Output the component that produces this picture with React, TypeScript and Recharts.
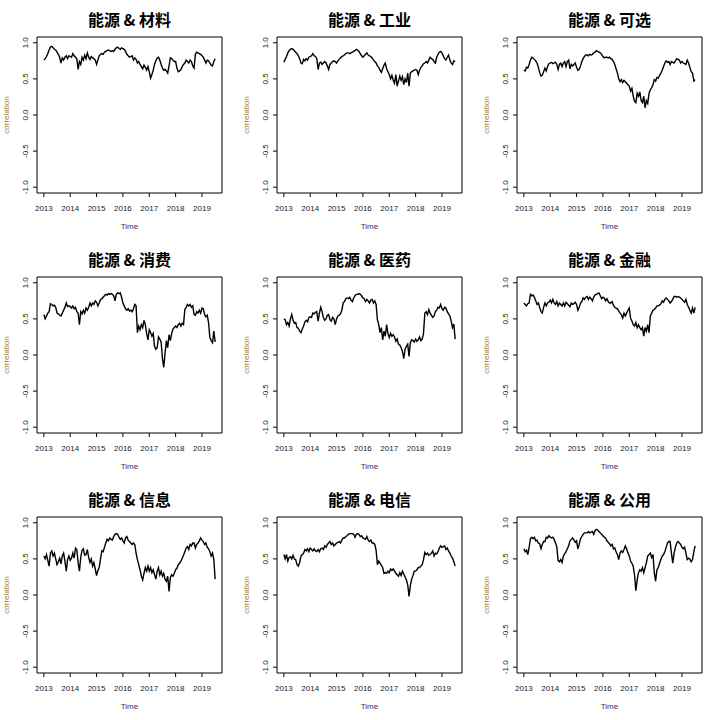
import React from "react";
import { LineChart, Line, XAxis, YAxis, ReferenceArea } from "recharts";

// time index like an R ts(start = 2013, frequency = 20)
const START = 2013;
const FREQ = 20;
const N = 131;
const TIME = Array.from({ length: N }, (_, i) => Math.round((START + i / FREQ) * 100) / 100);

const YEARS = [2013, 2014, 2015, 2016, 2017, 2018, 2019];
const CORR_TICKS = [-1, -0.5, 0, 0.5, 1];
const X_DOMAIN = [2012.74, 2019.76];
const Y_DOMAIN = [-1.08, 1.08];

const TITLES = [
  "能源 & 材料", "能源 & 工业", "能源 & 可选",
  "能源 & 消费", "能源 & 医药", "能源 & 金融",
  "能源 & 信息", "能源 & 电信", "能源 & 公用",
];

const materials = [
  0.76, 0.78, 0.81, 0.85, 0.90, 0.94, 0.95, 0.93, 0.91, 0.90,
  0.87, 0.84, 0.80, 0.72, 0.79, 0.76, 0.80, 0.82, 0.78, 0.82,
  0.81, 0.80, 0.85, 0.82, 0.80, 0.78, 0.63, 0.74, 0.70, 0.80,
  0.76, 0.83, 0.78, 0.86, 0.80, 0.77, 0.81, 0.79, 0.78, 0.76,
  0.70, 0.76, 0.82, 0.84, 0.85, 0.84, 0.87, 0.88, 0.89, 0.90,
  0.89, 0.88, 0.89, 0.88, 0.91, 0.93, 0.94, 0.92, 0.91, 0.93,
  0.92, 0.91, 0.88, 0.84, 0.82, 0.80, 0.81, 0.82, 0.76, 0.79,
  0.77, 0.72, 0.74, 0.70, 0.67, 0.64, 0.69, 0.66, 0.62, 0.67,
  0.60, 0.51, 0.56, 0.62, 0.70, 0.75, 0.79, 0.80, 0.76, 0.70,
  0.65, 0.62, 0.63, 0.61, 0.58, 0.68, 0.79, 0.78, 0.76, 0.74,
  0.74, 0.65, 0.60, 0.61, 0.63, 0.67, 0.70, 0.72, 0.76, 0.74,
  0.72, 0.76, 0.74, 0.68, 0.65, 0.84, 0.87, 0.86, 0.85, 0.84,
  0.82, 0.80, 0.76, 0.72, 0.76, 0.75, 0.72, 0.69, 0.68, 0.74,
  0.78,
];

const industrials = [
  0.73, 0.77, 0.81, 0.86, 0.89, 0.91, 0.92, 0.91, 0.89, 0.87,
  0.85, 0.82, 0.78, 0.72, 0.71, 0.77, 0.75, 0.78, 0.76, 0.80,
  0.81, 0.82, 0.85, 0.82, 0.81, 0.78, 0.63, 0.72, 0.73, 0.70,
  0.72, 0.74, 0.72, 0.68, 0.63, 0.70, 0.72, 0.74, 0.75, 0.74,
  0.72, 0.75, 0.77, 0.79, 0.81, 0.82, 0.83, 0.85, 0.86, 0.86,
  0.85, 0.86, 0.87, 0.88, 0.89, 0.91, 0.90, 0.88, 0.85, 0.82,
  0.80, 0.82, 0.84, 0.86, 0.83, 0.82, 0.81, 0.79, 0.76, 0.74,
  0.72, 0.68, 0.66, 0.62, 0.59, 0.64, 0.69, 0.72, 0.64, 0.60,
  0.56, 0.50, 0.55, 0.48, 0.44, 0.56, 0.40, 0.47, 0.54, 0.48,
  0.53, 0.42, 0.50, 0.45, 0.58, 0.40, 0.58, 0.60, 0.61, 0.62,
  0.63, 0.62, 0.56, 0.62, 0.66, 0.68, 0.71, 0.72, 0.74, 0.72,
  0.76, 0.80, 0.78, 0.77, 0.74, 0.72, 0.80, 0.84, 0.87, 0.88,
  0.86, 0.82, 0.78, 0.76, 0.80, 0.83, 0.76, 0.72, 0.70, 0.75,
  0.74,
];

const discretionary = [
  0.62, 0.61, 0.66, 0.65, 0.70, 0.76, 0.80, 0.79, 0.77, 0.75,
  0.72, 0.66, 0.59, 0.54, 0.55, 0.60, 0.65, 0.61, 0.67, 0.71,
  0.72, 0.73, 0.71, 0.72, 0.73, 0.70, 0.63, 0.70, 0.72, 0.67,
  0.72, 0.74, 0.67, 0.74, 0.76, 0.64, 0.70, 0.68, 0.70, 0.72,
  0.66, 0.62, 0.63, 0.68, 0.74, 0.78, 0.81, 0.83, 0.83, 0.82,
  0.84, 0.83, 0.84, 0.86, 0.87, 0.89, 0.88, 0.87, 0.86, 0.84,
  0.81, 0.79, 0.80, 0.80, 0.79, 0.80, 0.78, 0.77, 0.74, 0.70,
  0.64, 0.58, 0.50, 0.46, 0.49, 0.45, 0.48, 0.46, 0.44, 0.42,
  0.40, 0.33, 0.37, 0.26, 0.19, 0.17, 0.30, 0.26, 0.32, 0.20,
  0.17, 0.26, 0.10, 0.20, 0.16, 0.30, 0.35, 0.38, 0.42, 0.49,
  0.47, 0.52, 0.51, 0.55, 0.58, 0.62, 0.67, 0.72, 0.75, 0.73,
  0.74, 0.70, 0.74, 0.73, 0.72, 0.75, 0.78, 0.77, 0.76, 0.72,
  0.74, 0.72, 0.71, 0.70, 0.76, 0.72, 0.66, 0.60, 0.58, 0.47,
  0.49,
];

const staples = [
  0.56, 0.50, 0.54, 0.58, 0.60, 0.71, 0.70, 0.68, 0.69, 0.66,
  0.58, 0.57, 0.55, 0.54, 0.58, 0.62, 0.66, 0.72, 0.67, 0.68,
  0.67, 0.65, 0.68, 0.64, 0.66, 0.60, 0.58, 0.42, 0.60, 0.57,
  0.62, 0.58, 0.65, 0.62, 0.66, 0.72, 0.68, 0.72, 0.70, 0.75,
  0.73, 0.68, 0.72, 0.77, 0.78, 0.80, 0.82, 0.84, 0.83, 0.85,
  0.84, 0.85, 0.84, 0.82, 0.75, 0.84, 0.86, 0.85, 0.86, 0.80,
  0.72, 0.68, 0.64, 0.62, 0.64, 0.61, 0.62, 0.60, 0.64, 0.70,
  0.68, 0.31, 0.40, 0.35, 0.42, 0.38, 0.48, 0.42, 0.30, 0.21,
  0.35, 0.31, 0.26, 0.30, 0.12, 0.08, 0.10, 0.25, 0.22, 0.18,
  -0.05, -0.17, 0.03, 0.20, 0.10, 0.28, 0.20, 0.30, 0.36, 0.38,
  0.40, 0.38, 0.42, 0.44, 0.40, 0.44, 0.42, 0.63, 0.66, 0.70,
  0.68, 0.70, 0.66, 0.68, 0.56, 0.55, 0.60, 0.58, 0.62, 0.58,
  0.65, 0.64, 0.56, 0.53, 0.55, 0.45, 0.24, 0.20, 0.17, 0.33,
  0.18,
];

const healthcare = [
  0.50, 0.49, 0.42, 0.45, 0.40, 0.50, 0.56, 0.48, 0.44, 0.45,
  0.38, 0.37, 0.33, 0.31, 0.36, 0.40, 0.46, 0.48, 0.46, 0.52,
  0.53, 0.52, 0.58, 0.57, 0.59, 0.60, 0.47, 0.58, 0.66, 0.60,
  0.52, 0.48, 0.50, 0.55, 0.56, 0.49, 0.47, 0.52, 0.50, 0.42,
  0.50, 0.54, 0.55, 0.57, 0.62, 0.72, 0.74, 0.78, 0.79, 0.78,
  0.80, 0.76, 0.74, 0.79, 0.82, 0.84, 0.84, 0.85, 0.84, 0.82,
  0.79, 0.78, 0.74, 0.77, 0.75, 0.72, 0.76, 0.77, 0.72, 0.75,
  0.70, 0.49, 0.42, 0.31, 0.38, 0.21, 0.33, 0.26, 0.42, 0.30,
  0.24, 0.30, 0.26, 0.28, 0.25, 0.19, 0.22, 0.15, 0.14, 0.10,
  0.05, -0.05, 0.08, 0.12, 0.15, -0.02, 0.17, 0.21, 0.20, 0.18,
  0.22, 0.19, 0.21, 0.25, 0.20, 0.22, 0.30, 0.58, 0.60, 0.56,
  0.63, 0.58, 0.55, 0.52, 0.54, 0.60, 0.62, 0.66, 0.65, 0.70,
  0.64, 0.62, 0.66, 0.65, 0.60, 0.57, 0.54, 0.47, 0.38, 0.43,
  0.22,
];

const financials = [
  0.72, 0.70, 0.68, 0.71, 0.72, 0.84, 0.82, 0.83, 0.80, 0.75,
  0.70, 0.72, 0.66, 0.60, 0.58, 0.66, 0.72, 0.68, 0.72, 0.73,
  0.76, 0.72, 0.77, 0.72, 0.70, 0.74, 0.68, 0.72, 0.70, 0.68,
  0.72, 0.68, 0.73, 0.71, 0.69, 0.67, 0.72, 0.70, 0.71, 0.73,
  0.70, 0.62, 0.66, 0.72, 0.74, 0.79, 0.77, 0.80, 0.81, 0.77,
  0.80, 0.78, 0.75, 0.80, 0.83, 0.84, 0.85, 0.86, 0.82, 0.78,
  0.80, 0.79, 0.75, 0.78, 0.74, 0.72, 0.72, 0.74, 0.69, 0.66,
  0.65, 0.64, 0.61, 0.58, 0.56, 0.51, 0.58, 0.54, 0.58, 0.62,
  0.65, 0.51, 0.47, 0.42, 0.40, 0.45, 0.38, 0.42, 0.38, 0.35,
  0.38, 0.26, 0.38, 0.33, 0.42, 0.31, 0.54, 0.58, 0.62, 0.63,
  0.65, 0.68, 0.68, 0.69, 0.71, 0.75, 0.73, 0.77, 0.79, 0.77,
  0.75, 0.72, 0.74, 0.77, 0.81, 0.81, 0.80, 0.81, 0.80, 0.79,
  0.77, 0.75, 0.73, 0.77, 0.70, 0.66, 0.62, 0.58, 0.65, 0.58,
  0.66,
];

const infoTech = [
  0.54, 0.50, 0.56, 0.48, 0.40, 0.58, 0.61, 0.54, 0.58, 0.50,
  0.42, 0.46, 0.51, 0.43, 0.54, 0.58, 0.47, 0.33, 0.49, 0.54,
  0.48, 0.51, 0.58, 0.51, 0.65, 0.63, 0.45, 0.33, 0.52, 0.62,
  0.64, 0.55, 0.56, 0.63, 0.52, 0.45, 0.50, 0.40, 0.45, 0.36,
  0.27, 0.34, 0.38, 0.50, 0.61, 0.60, 0.66, 0.72, 0.77, 0.75,
  0.79, 0.77, 0.76, 0.81, 0.84, 0.85, 0.84, 0.80, 0.77, 0.79,
  0.75, 0.72, 0.79, 0.81, 0.76, 0.74, 0.72, 0.70, 0.72, 0.70,
  0.58, 0.49, 0.42, 0.35, 0.26, 0.21, 0.30, 0.38, 0.33, 0.40,
  0.33, 0.38, 0.31, 0.35, 0.28, 0.22, 0.33, 0.38, 0.28, 0.33,
  0.26, 0.30, 0.22, 0.19, 0.26, 0.05, 0.24, 0.28, 0.26, 0.30,
  0.35, 0.37, 0.42, 0.44, 0.47, 0.51, 0.55, 0.60, 0.65, 0.67,
  0.63, 0.70, 0.68, 0.72, 0.72, 0.65, 0.70, 0.72, 0.75, 0.79,
  0.76, 0.74, 0.70, 0.72, 0.66, 0.64, 0.60, 0.54, 0.58, 0.49,
  0.22,
];

const telecom = [
  0.56, 0.50, 0.56, 0.47, 0.52, 0.53, 0.50, 0.55, 0.50, 0.49,
  0.42, 0.40, 0.45, 0.54, 0.56, 0.58, 0.63, 0.61, 0.64, 0.60,
  0.65, 0.63, 0.61, 0.64, 0.61, 0.60, 0.63, 0.60, 0.64, 0.65,
  0.63, 0.68, 0.66, 0.70, 0.72, 0.74, 0.70, 0.72, 0.68, 0.70,
  0.72, 0.73, 0.74, 0.72, 0.76, 0.79, 0.79, 0.81, 0.82, 0.84,
  0.85, 0.85, 0.85, 0.84, 0.80, 0.84, 0.85, 0.84, 0.81, 0.82,
  0.79, 0.78, 0.77, 0.81, 0.76, 0.74, 0.76, 0.72, 0.72, 0.70,
  0.62, 0.42, 0.47, 0.44, 0.41, 0.38, 0.30, 0.31, 0.30, 0.33,
  0.31, 0.36, 0.34, 0.36, 0.33, 0.30, 0.28, 0.26, 0.31, 0.27,
  0.33, 0.29, 0.25, 0.21, 0.14, -0.02, 0.13, 0.22, 0.27, 0.33,
  0.33, 0.35, 0.38, 0.38, 0.40, 0.42, 0.49, 0.59, 0.56, 0.58,
  0.55, 0.56, 0.58, 0.61, 0.54, 0.58, 0.57, 0.60, 0.65, 0.68,
  0.66, 0.67, 0.68, 0.63, 0.65, 0.61, 0.58, 0.54, 0.51, 0.46,
  0.40,
];

const utilities = [
  0.64, 0.60, 0.62, 0.56, 0.66, 0.78, 0.80, 0.78, 0.80, 0.75,
  0.76, 0.72, 0.71, 0.64, 0.70, 0.74, 0.74, 0.80, 0.79, 0.82,
  0.80, 0.79, 0.80, 0.77, 0.72, 0.67, 0.48, 0.46, 0.49, 0.45,
  0.54, 0.57, 0.60, 0.64, 0.68, 0.75, 0.77, 0.79, 0.76, 0.73,
  0.75, 0.64, 0.70, 0.78, 0.81, 0.84, 0.86, 0.86, 0.86, 0.88,
  0.86, 0.87, 0.88, 0.84, 0.89, 0.91, 0.90, 0.88, 0.86, 0.84,
  0.82, 0.80, 0.79, 0.75, 0.73, 0.71, 0.68, 0.70, 0.64, 0.65,
  0.60, 0.56, 0.49, 0.58, 0.61, 0.59, 0.63, 0.68, 0.64, 0.58,
  0.54, 0.47, 0.44, 0.40, 0.28, 0.06, 0.21, 0.31, 0.35, 0.33,
  0.38, 0.31, 0.38, 0.45, 0.54, 0.56, 0.58, 0.52, 0.56, 0.31,
  0.19, 0.35, 0.38, 0.44, 0.49, 0.54, 0.56, 0.60, 0.66, 0.72,
  0.74, 0.74, 0.58, 0.44, 0.58, 0.66, 0.72, 0.74, 0.72, 0.70,
  0.66, 0.64, 0.66, 0.58, 0.49, 0.51, 0.50, 0.46, 0.49, 0.60,
  0.68,
];

const SERIES = [
  materials, industrials, discretionary,
  staples, healthcare, financials,
  infoTech, telecom, utilities,
];

const AXIS_FONT = "'Liberation Sans', Arial, Helvetica, sans-serif";

const XTick = (props: any) => {
  const { x, y, payload } = props;
  return (
    <text x={x} y={y + 12} textAnchor="middle" fontSize={8} fontFamily={AXIS_FONT} fill="#222">
      {payload.value}
    </text>
  );
};

const YTick = (props: any) => {
  const { y, payload } = props;
  const bx = 28;
  return (
    <text
      x={bx}
      y={y}
      transform={`rotate(-90, ${bx}, ${y})`}
      textAnchor="middle"
      fontSize={8}
      fontFamily={AXIS_FONT}
      fill="#222"
    >
      {Number(payload.value).toFixed(1)}
    </text>
  );
};

const timeLabel = (props: any) => {
  const vb = props.viewBox || { x: 37, y: 193, width: 185, height: 47 };
  return (
    <text x={vb.x + vb.width / 2} y={vb.y + 36} textAnchor="middle" fontSize={8} fontFamily={AXIS_FONT} fill="#3b3359">
      Time
    </text>
  );
};

const corrLabel = (props: any) => {
  const vb = props.viewBox || { x: 0, y: 37, width: 37, height: 156 };
  const cx = vb.x + 9;
  const cy = vb.y + vb.height / 2;
  return (
    <text x={cx} y={cy} transform={`rotate(-90, ${cx}, ${cy})`} textAnchor="middle" fontSize={8} fontFamily={AXIS_FONT} fill="#a57a35">
      correlation
    </text>
  );
};

function Panel({ title, values }: { title: string; values: number[] }) {
  const data = TIME.map((t, i) => ({ t, v: values[i] }));
  return (
    <div style={{ position: "relative", width: 240, height: 240 }}>
      <div
        style={{
          position: "absolute",
          left: 37,
          top: 10,
          width: 185,
          textAlign: "center",
          fontFamily: "'Noto Sans CJK SC', sans-serif",
          fontWeight: 700,
          fontSize: 16,
          lineHeight: "18px",
          color: "#000",
        }}
      >
        {title}
      </div>
      <LineChart width={240} height={240} data={data} margin={{ top: 37, right: 18, bottom: 0, left: 0 }}>
        <XAxis
          dataKey="t"
          type="number"
          domain={X_DOMAIN}
          ticks={YEARS}
          interval={0}
          height={47}
          tickSize={4}
          axisLine={false}
          tickLine={{ stroke: "#000" }}
          tick={<XTick />}
          label={timeLabel}
          allowDataOverflow
        />
        <YAxis
          type="number"
          domain={Y_DOMAIN}
          ticks={CORR_TICKS}
          width={37}
          tickSize={4}
          axisLine={false}
          tickLine={{ stroke: "#000" }}
          tick={<YTick />}
          label={corrLabel}
          allowDataOverflow
        />
        <ReferenceArea
          x1={X_DOMAIN[0]}
          x2={X_DOMAIN[1]}
          y1={Y_DOMAIN[0]}
          y2={Y_DOMAIN[1]}
          fill="none"
          stroke="#000"
          strokeWidth={1}
          ifOverflow="visible"
        />
        <Line
          type="linear"
          dataKey="v"
          stroke="#000"
          strokeWidth={1.4}
          dot={false}
          activeDot={false}
          isAnimationActive={false}
        />
      </LineChart>
    </div>
  );
}

export default function App() {
  return (
    <div
      style={{
        position: "absolute",
        left: 0,
        top: 0,
        width: 720,
        height: 720,
        background: "#fff",
        display: "grid",
        gridTemplateColumns: "repeat(3, 240px)",
        gridTemplateRows: "repeat(3, 240px)",
      }}
    >
      {SERIES.map((s, i) => (
        <Panel key={TITLES[i]} title={TITLES[i]} values={s} />
      ))}
    </div>
  );
}
